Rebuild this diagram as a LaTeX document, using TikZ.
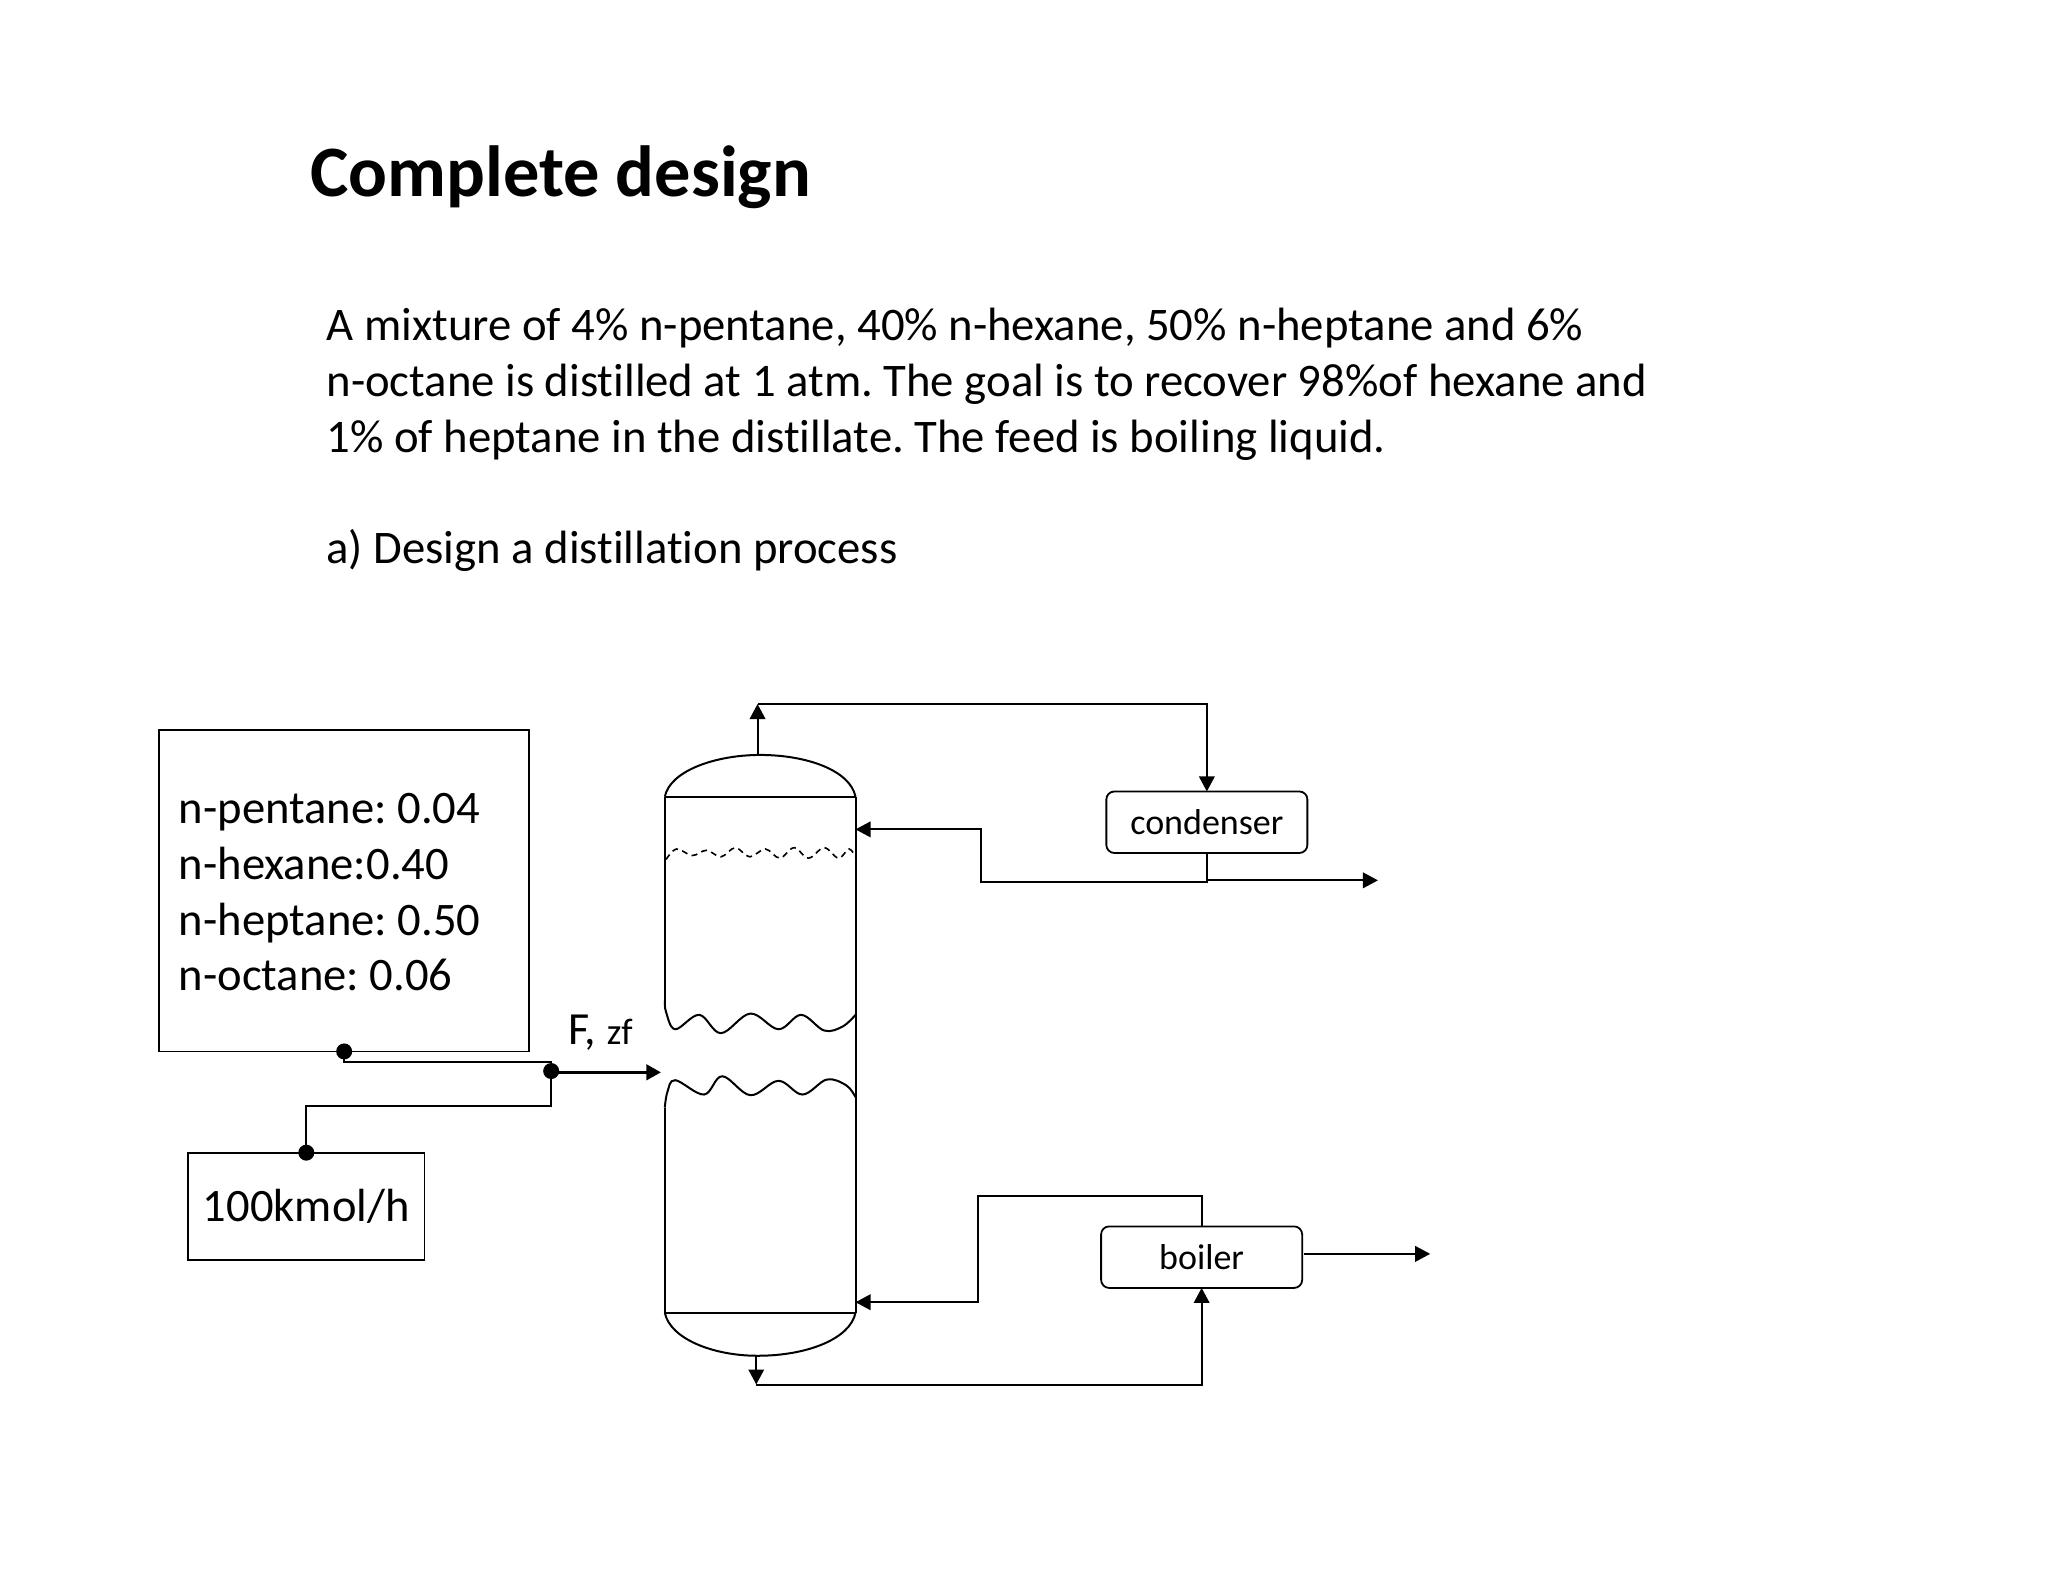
\documentclass[tikz,border=0pt]{standalone}
\usepackage{fontspec}
\setmainfont[Ligatures=CommonOff]{Carlito}
\usetikzlibrary{arrows.meta}
\tikzset{
  x=1.306pt,y=-1.306pt,
  wire/.style={line width=2pt,line join=miter},
  flow/.style={wire,-{Triangle[length=15pt,width=15.5pt]}},
  feedflow/.style={line width=2.8pt,-{Triangle[length=14.5pt,width=15.5pt]}},
  plainbox/.style={draw,line width=1.8pt,inner sep=0pt,outer sep=0pt},
  unitbox/.style={plainbox,rounded corners=8pt,minimum width=201pt,minimum height=61.5pt,font=\fontsize{36}{42}\selectfont},
  dotmark/.style={circle,fill=black,inner sep=0pt,outer sep=0pt,minimum size=16pt},
  bodytext/.style={anchor=base west,inner sep=0pt,outer sep=0pt,font=\fontsize{46.7}{50}\selectfont},
  boxtext/.style={anchor=base west,inner sep=0pt,outer sep=0pt,font=\fontsize{46.6}{50}\selectfont},
  titletext/.style={anchor=base west,inner sep=0pt,outer sep=0pt,font=\fontsize{72.4}{78}\selectfont\bfseries},
  vessel/.style={line width=2pt},
}
\begin{document}
\frenchspacing
\begin{tikzpicture}
\useasboundingbox[fill=white] (0,0) rectangle (1568,1211);
% texts
\node[titletext] (title) at (237.5,150.5) {Complete design};
\node[bodytext] (l1) at (250,260.7) {A mixture of 4\% n-pentane, 40\% n-hexane, 50\% n-heptane and 6\%};
\node[bodytext] (l2) at (250,303.7) {n-octane is distilled at 1 atm. The goal is to recover 98\%of hexane and};
\node[bodytext] (l3) at (250,346.7) {1\% of heptane in the distillate. The feed is boiling liquid.};
\node[bodytext] (l4) at (250,431.7) {a) Design a distillation process};
% feed boxes
\node[plainbox,minimum width=369.6pt,minimum height=321.3pt] (comp) at (263.5,682) {};
\node[boxtext] (t1) at (137,630.7) {n-pentane: 0.04};
\node[boxtext] (t2) at (137,673.2) {n-hexane:0.40};
\node[boxtext] (t3) at (137,716.2) {n-heptane: 0.50};
\node[boxtext] (t4) at (137,758.7) {n-octane: 0.06};
\node[plainbox,minimum width=236.4pt,minimum height=107pt,font=\fontsize{46.5}{50}\selectfont] (rate) at (234.5,924) {\raisebox{3pt}{100kmol/h}};
\node[dotmark] (d1) at (263.5,805) {};
\node[dotmark] (d2) at (422,820) {};
\node[dotmark] (d3) at (234.5,882.5) {};
\coordinate (feedend) at (506,821);
\node[anchor=base west,inner sep=0pt,font=\fontsize{46}{50}\selectfont] (flabel) at (435,800) {F, {\fontsize{37}{40}\selectfont zf}};
\draw[wire] (d1.center) |- (422,813) -- (d2.center);
\draw[wire] (d3.center) |- (422,847) -- (d2.center);
\draw[feedflow] (d2.center |- feedend) -- (feedend);
% column
\coordinate (tl) at (509,610);
\coordinate (tr) at (655,610);
\coordinate (bl) at (509,1005);
\coordinate (br) at (655,1005);
\coordinate (bbot) at (579,1038);
\draw[vessel] (tl) .. controls (513,590) and (548,578) .. (582,578) .. controls (618,578) and (651,590) .. (tr);
\draw[vessel] (tl) -- (tr);
\draw[vessel] (tr) -- (br);
\draw[vessel] (tl) -- (509,766);
\draw[vessel] plot[smooth,tension=0.6] coordinates {(509,766) (510,775) (517,788) (535.4,777) (552,791) (574.5,776) (596,788) (613.4,777) (631,789) (645,786) (655,777)};
\draw[vessel] plot[smooth,tension=0.6] coordinates {(655,840) (648,831) (633,826.5) (614.5,838) (596,827.5) (574.5,838.5) (553,824) (539,838) (517,827) (511,836) (509,848)};
\draw[vessel] (509,848) -- (bl);
\draw[vessel] (bl) -- (br);
\draw[vessel] (bl) .. controls (513,1025) and (546,1038) .. (580,1038) .. controls (618,1038) and (651,1025) .. (br);
\draw[line width=1.6pt,dash pattern=on 6pt off 4.5pt] plot[smooth,tension=0.6] coordinates {(510,658) (518,650) (530,655) (541,651) (552,656) (563,649) (574,656) (586,650) (597,657) (608,649) (619,657) (631,649) (642,657) (650,650) (655,656)};
% condenser
\node[unitbox] (cond) at (924,629.5) {\raisebox{-1pt}{condenser}};
\coordinate (reflux) at (655,635);
\coordinate (dist) at (1055,674);
\draw[flow] (580,577) -- (580,539);
\draw[flow] (580,539) -| (cond.north);
\draw[flow] (cond.south) |- (751,675) |- (reflux);
\draw[flow] (cond.south |- dist) -- (dist);
% boiler
\node[unitbox] (boil) at (920,962.5) {\raisebox{-1pt}{boiler}};
\coordinate (reboil) at (655,997);
\coordinate (bott) at (1095,960);
\draw[flow] (boil.north) |- (749,916) |- (reboil);
\draw[flow] (bbot) -- (579,1060);
\draw[flow] (579,1060) -| (boil.south);
\draw[flow] (998,960) -- (bott);
\end{tikzpicture}
\end{document}
